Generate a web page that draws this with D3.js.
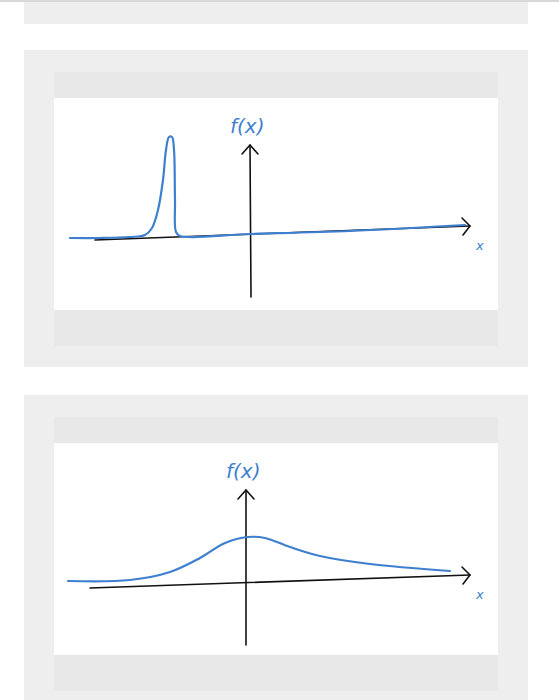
<!DOCTYPE html><html><head><meta charset="utf-8"><script src="https://cdn.jsdelivr.net/npm/d3@7"></script>
<style>body{margin:0;background:#fff}</style></head><body><svg id="c" width="559" height="700"></svg>
<script>
const curve1 = [[-9,-0.5],[-7.5,-0.5],[-6,-0.4],[-5.25,-0.2],[-4.9,0.5],[-4.6,2.3],[-4.35,5.3],[-4.2,8.3],[-4.05,9.6],[-3.9,9.6],[-3.8,8.3],[-3.75,3.3],[-3.7,0.1],[-3.5,-0.3],[0,-0.1],[5,0.2],[10.75,0.8]];
const curve2 = [[-8.9,-0.1],[-5.8,0],[-3.8,0.8],[-2.3,2.2],[-1.05,3.7],[0.1,4.3],[0.95,4.2],[2.2,3.3],[3.7,2.4],[6.2,1.6],[10.2,0.9]];
const xAxis1 = [[-7.75,-0.7],[11,0.7]], yAxis1 = [[0.05,-6.4],[0,8.8]];
const xAxis2 = [[-7.8,-0.8],[11.2,0.5]], yAxis2 = [[0,-6.5],[0,9]];
const labels = ["f(x)","x"];
const svg = d3.select("#c");
svg.append("rect").attr("x",0).attr("y",0).attr("width",559).attr("height",2).attr("fill","#d8d8d8");
svg.append("rect").attr("x",24).attr("y",2).attr("width",504).attr("height",22).attr("fill","#eeeeee");
const panels=[{top:50,bottom:367,origin:[250,233],c:curve1,xa:xAxis1,ya:yAxis1},
              {top:395,bottom:700,origin:[246,580],c:curve2,xa:xAxis2,ya:yAxis2}];
const blue="#3f7fcf";
panels.forEach(p=>{
  svg.append("rect").attr("x",24).attr("y",p.top).attr("width",504).attr("height",p.bottom-p.top).attr("fill","#eeeeee");
  svg.append("rect").attr("x",54).attr("y",p.top+22).attr("width",444).attr("height",274).attr("fill","#e8e8e8");
  svg.append("rect").attr("x",54).attr("y",p.top+48).attr("width",444).attr("height",212).attr("fill","#ffffff");
  const x=d3.scaleLinear().domain([0,1]).range([p.origin[0],p.origin[0]+20]);
  const y=d3.scaleLinear().domain([0,1]).range([p.origin[1],p.origin[1]-10]);
  const line=d3.line().x(d=>x(d[0])).y(d=>y(d[1]));
  const g=svg.append("g").attr("fill","none").attr("stroke-linecap","round").attr("stroke-linejoin","round");
  g.append("path").attr("d",line(p.xa)).attr("stroke","#111").attr("stroke-width",1.6);
  g.append("path").attr("d",line(p.ya)).attr("stroke","#111").attr("stroke-width",1.6);
  // arrowheads
  const tx=x(p.ya[1][0]), ty=y(p.ya[1][1]);
  g.append("path").attr("d",`M${tx-8},${ty+9}L${tx},${ty}L${tx+8},${ty+9}`).attr("stroke","#111").attr("stroke-width",1.6);
  const ax=x(p.xa[1][0]), ay=y(p.xa[1][1]);
  g.append("path").attr("d",`M${ax-8},${ay-8}L${ax},${ay}L${ax-7},${ay+9}`).attr("stroke","#111").attr("stroke-width",1.6);
  g.append("path").attr("d",line.curve(d3.curveCatmullRom)(p.c)).attr("stroke",blue).attr("stroke-width",2.2);
  svg.append("text").attr("x",tx-20).attr("y",ty-12).attr("font-family","DejaVu Sans").attr("font-style","italic").attr("font-size",20).attr("fill",blue).text(labels[0]);
  svg.append("text").attr("x",ax+6).attr("y",ay+24).attr("font-family","DejaVu Sans").attr("font-style","italic").attr("font-size",13).attr("fill",blue).text(labels[1]);
});
</script></body></html>
